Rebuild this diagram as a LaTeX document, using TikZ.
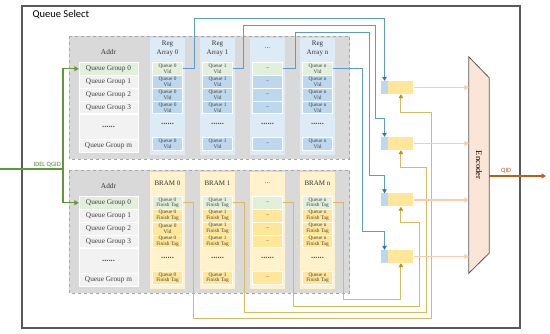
\documentclass[tikz,border=0pt]{standalone}
\usepackage{fontspec}
\setmainfont{Liberation Serif}
\newfontfamily\calfont{Carlito}
\usepackage{xcolor}
\definecolor{frameg}{HTML}{595959}
\definecolor{bankg}{HTML}{D9D9D9}
\definecolor{bankln}{HTML}{A6A6A6}
\definecolor{addrg}{HTML}{F2F2F2}
\definecolor{hitg}{HTML}{E2EFDA}
\definecolor{regbg}{HTML}{DDEBF7}
\definecolor{regc}{HTML}{BDD7EE}
\definecolor{brambg}{HTML}{FFF2CC}
\definecolor{bramc}{HTML}{FFE699}
\definecolor{blueln}{HTML}{5B9BD5}
\definecolor{bluetip}{HTML}{2E75B6}
\definecolor{goldln}{HTML}{DBBA5E}
\definecolor{goldtip}{HTML}{BF9000}
\definecolor{grnln}{HTML}{5E9A3A}
\definecolor{grntxt}{HTML}{548235}
\definecolor{peach}{HTML}{F8CBAD}
\definecolor{encbg}{HTML}{FBE5D6}
\definecolor{qidc}{HTML}{C55A11}
\usepackage{tikz}
\usetikzlibrary{arrows.meta,positioning,calc}
\newcommand\gapdots{...}
\tikzset{
  sysbox/.style={draw=frameg,line width=1.5pt},
  bank/.style={draw=bankln,fill=bankg,dashed,line width=0.9pt},
  col/.style={minimum width=35pt,minimum height=117.5pt,inner sep=0pt},
  ttl/.style={font=\fontsize{7}{8.6}\selectfont,align=center,text=black!80},
  cell/.style={draw=white,line width=0.4pt,minimum width=30pt,minimum height=12.5pt,%
    inner sep=0pt,font=\fontsize{5.3}{5.7}\selectfont,align=center,text=black!75},
  addr/.style={cell,fill=addrg,minimum width=59pt,font=\fontsize{7.3}{8}\selectfont},
  dots/.style={font=\fontsize{8.5}{9}\selectfont\bfseries,text=black!70},
  vbox/.style={minimum width=7pt,minimum height=13pt,inner sep=0pt,fill=regc},
  qbox/.style={minimum width=25pt,minimum height=13pt,inner sep=0pt,fill=bramc},
  sidelbl/.style={font=\calfont\fontsize{6.5}{7}\selectfont,inner sep=1pt},
  vld/.style={-{Triangle[length=4pt,width=4.5pt,color=bluetip]},draw=blueln,line width=0.9pt},
  tag/.style={-{Triangle[length=4pt,width=4.5pt,color=goldtip]},draw=goldln,line width=1pt},
  hit/.style={-{Triangle[length=4.5pt,width=5pt]},draw=peach,line width=1.2pt},
  sel/.style={-{Triangle[length=4.5pt,width=5pt]},draw=grnln,line width=1.1pt},
  qidarr/.style={-{Triangle[length=4.5pt,width=5pt]},draw=qidc,line width=1.1pt},
}

\begin{document}
\begin{tikzpicture}[x=1pt,y=-1pt]
\useasboundingbox (0,0) rectangle (550,334);
\draw[sysbox] (22,6) rectangle (520,328);
\node[anchor=west,font=\calfont\fontsize{10.5}{12}\selectfont] (title) at (29,15) {Queue Select};

% valid bits (register arrays)
\draw[bank] (69,36) rectangle (349.5,159);
\node[ttl,font=\fontsize{7.3}{8}\selectfont] (raddr) at (108.5,52) {Addr};
\node[addr,fill=hitg] (ra0) at (108.5,68.75) {Queue Group 0};
\foreach \k [remember=\k as \p (initially 0)] in {1,2,3}
  \node[addr,below=0pt of ra\p] (ra\k) {Queue Group \k};
\node[addr,dots,minimum height=25pt,below=0pt of ra3] (rad) {......};
\node[addr,below=0pt of rad] (ram) {Queue Group m};
\foreach \c/\x/\t/\q in {0/167.5/{Reg\\Array 0}/{Queue 0\\Vld},
    1/217.5/{Reg\\Array 1}/{Queue 1\\Vld},2/267.5/\gapdots/\gapdots,
    3/317.5/{Reg\\Array n}/{Queue n\\Vld}}{
  \node[col,fill=regbg] (rc\c) at (\x,96.75) {};
  \node[ttl] (rt\c) at (\x,48.5) {\t};
  \node[cell,fill=hitg] (r\c-1) at (\x,68.75) {\q};
  \foreach \k [remember=\k as \p (initially 1)] in {2,3,4}
    \node[cell,fill=regc,below=0pt of r\c-\p] (r\c-\k) {\q};
  \node[dots] (r\c-d) at (\x,124) {......};
  \node[cell,fill=regc] (r\c-m) at (\x,143.75) {\q};
}

% finish tags (BRAM)
\draw[bank] (69,170) rectangle (349.5,293);
\node[ttl,font=\fontsize{7.3}{8}\selectfont] (baddr) at (108.5,186) {Addr};
\node[addr,fill=hitg] (ba0) at (108.5,202.75) {Queue Group 0};
\foreach \k [remember=\k as \p (initially 0)] in {1,2,3}
  \node[addr,below=0pt of ba\p] (ba\k) {Queue Group \k};
\node[addr,dots,minimum height=25pt,below=0pt of ba3] (bad) {......};
\node[addr,below=0pt of bad] (bam) {Queue Group m};
\foreach \c/\x/\t/\q/\v in {0/167.5/{BRAM 0}/{Queue 0\\Finish Tag}/{Queue 0\\Vld},
    1/217.5/{BRAM 1}/{Queue 1\\Finish Tag}/{Queue 1\\Finish Tag},
    2/267.5/\gapdots/\gapdots/\gapdots,
    3/317.5/{BRAM n}/{Queue n\\Finish Tag}/{Queue n\\Finish Tag}}{
  \node[col,fill=brambg] (bc\c) at (\x,230.75) {};
  \node[ttl] (bt\c) at (\x,183) {\t};
  \node[cell,fill=hitg] (b\c-1) at (\x,202.75) {\q};
  \node[cell,fill=bramc,below=0pt of b\c-1] (b\c-2) {\q};
  \node[cell,fill=bramc,below=0pt of b\c-2] (b\c-3) {\v};
  \node[cell,fill=bramc,below=0pt of b\c-3] (b\c-4) {\q};
  \node[dots] (b\c-d) at (\x,258) {......};
  \node[cell,fill=bramc] (b\c-m) at (\x,277.75) {\q};
}

% compare slots and encoder
\foreach \k/\y in {1/87.5,2/143.5,3/200,4/256.5}{
  \node[vbox] (v\k) at (384.5,\y) {};
  \node[qbox,right=0pt of v\k] (t\k) {};
}
\node[minimum width=20pt,minimum height=216pt,inner sep=0pt] (enc) at (479,165) {};
\draw[draw=frameg,fill=encbg,line width=0.8pt] (enc.north west)
  -- ($(enc.north east)+(0,21)$) -- ($(enc.south east)+(0,-20)$)
  -- (enc.south west) -- cycle;
\node[rotate=-90,font=\fontsize{8.5}{10}\selectfont] (enclbl) at (enc.center) {Encoder};

\draw[vld] (r0-1.east) -| (194,18) -| (v1.north);
\draw[vld] (r1-1.east) -| (243,25) -| (375,118) -| (v2.north);
\draw[vld] (r2-1.east) -| (295,32) -| (369,175) -| (v3.north);
\draw[vld] (r3-1.east) -| (362,231) -| (v4.north);

\draw[tag] (b0-1.east) -| (193,319) -| (431,113) -| (t1.south);
\draw[tag] (b1-1.east) -| (244,313) -| (426,168) -| (t2.south);
\draw[tag] (b2-1.east) -| (293,306.5) -| (419,223) -| (t3.south);
\draw[tag] (b3-1.east) -| (343,300) -| (t4.south);

\foreach \k in {1,...,4}
  \draw[hit] (t\k.east) -- (t\k.east -| enc.west);

% in / out
\coordinate (qgid) at (0,169);
\coordinate (split) at (63,169);
\draw[sel] (qgid) -- (split) |- (ra0.west);
\draw[sel] (split) |- (ba0.west);
\node[sidelbl,text=grntxt,above left=0.5pt and 1pt of split] (qgidlbl) {IDEL QGID};
\coordinate (qid) at (546,176);
\draw[qidarr] (enc.east |- qid) -- node[sidelbl,text=qidc,above=1pt,pos=0.3] {QID} (qid);
\end{tikzpicture}
\end{document}
